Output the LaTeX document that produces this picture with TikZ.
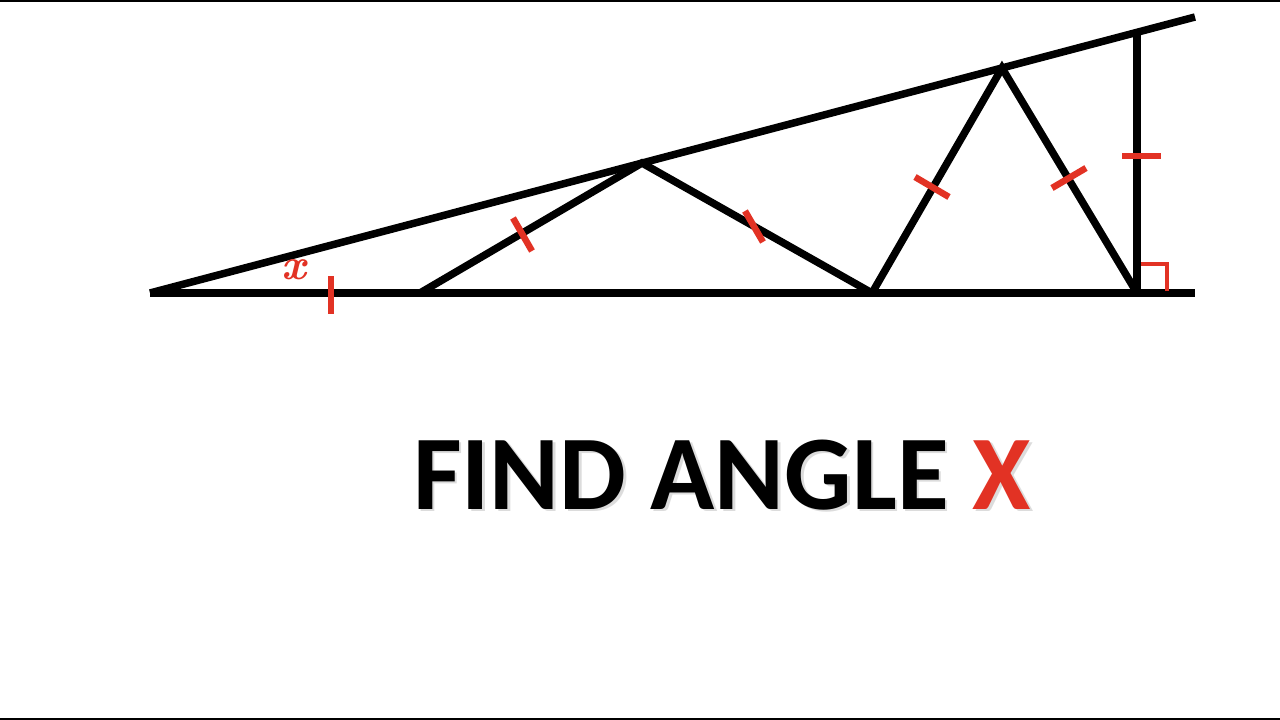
\documentclass[tikz,border=0pt]{standalone}
\usepackage{fontspec}
\setmainfont{Carlito}
\newfontfamily\titlefont{Carlito}
\newfontfamily\labelfont{Latin Modern Roman}
\definecolor{tickred}{RGB}{226,50,36}
\begin{document}
\begin{tikzpicture}[x=1pt,y=-1pt,
  seg/.style={line width=7.5pt,black},
  tickmark/.style={line width=6.5pt,tickred},
  frameline/.style={line width=2pt,black}]
\useasboundingbox (0,0) rectangle (1280,720);
\fill[white] (0,0) rectangle (1280,720);
\draw[frameline] (0,1) -- (1280,1);
\draw[frameline] (0,719) -- (1280,719);
% points
\coordinate (A) at (150,293);
\coordinate (E) at (1195,293);
\coordinate (T) at (1195,17);
\coordinate (P1) at (420,293);
\coordinate (Q1) at (642,163);
\coordinate (P2) at (872,293);
\coordinate (Q2) at (1002,68);
\coordinate (P3) at (1137,293);
\coordinate (Q3) at (1137,33);
% lines
\draw[seg] (A) -- (E);
\draw[seg] (A) -- (T);
\draw[seg,line join=miter] (P1) -- (Q1) -- (P2);
\draw[seg,line join=miter] (P2) -- (Q2) -- (P3);
\draw[seg] (P3) -- (Q3);
% tick marks
\draw[tickmark] (331,276) -- (331,314);
\draw[tickmark] (513,218) -- (532,251);
\draw[tickmark] (745,211) -- (763,242);
\draw[tickmark] (915,177) -- (949,197);
\draw[tickmark] (1052,188) -- (1086,168);
\draw[tickmark] (1122,156) -- (1161,156);
% right angle mark
\draw[tickred,line width=4.5pt] (1141,264) -- (1167,264) -- (1167,291);
% label x
\node[tickred,font=\fontsize{44}{44}\selectfont\labelfont\bfseries\itshape] (xl) at (294,270) {x};
% title
\node[gray!45,opacity=0.6,font=\fontsize{106}{106}\bfseries\titlefont] (sh) at (724.5,477.5) {FIND ANGLE X};
\node[font=\fontsize{106}{106}\bfseries\titlefont] (title) at (722,475) {FIND ANGLE \textcolor{tickred}{X}};
\end{tikzpicture}
\end{document}
